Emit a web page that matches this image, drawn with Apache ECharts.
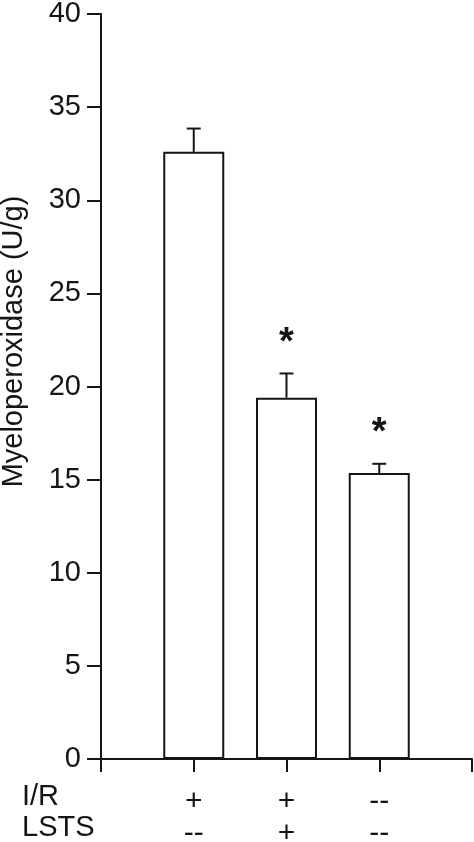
<!DOCTYPE html>
<html><head><meta charset="utf-8">
<script src="https://cdn.jsdelivr.net/npm/echarts@6/dist/echarts.min.js"></script>
<style>html,body{margin:0;padding:0;background:#fff}#c{width:474px;height:842px}</style>
</head><body><div id="c"></div>
<script>
// Data
const irRow = ['+', '+', '--'];
const lstsRow = ['--', '+', '--'];
const rowHeaders = ['I/R', 'LSTS'];
const means = [32.6, 19.4, 15.35];
const errors = [1.25, 1.3, 0.5];
const marks = ['', '*', '*'];
const yMin = 0, yMax = 40, yInterval = 5;
const yName = 'Myeloperoxidase (U/g)';

const FONT = "'Liberation Sans', Arial, sans-serif";
const INK = '#151515';

const categories = [''].concat(irRow.map((v, i) => v + '\n' + lstsRow[i]), ['']);
const barData = means.map((m, i) => [i + 1, m]);
const errData = means.map((m, i) => [i + 1, m, errors[i]]);

const chart = echarts.init(document.getElementById('c'));
chart.setOption({
  backgroundColor: '#fff',
  animation: false,
  grid: { left: 101, right: 2, top: 14, bottom: 83, containLabel: false, outerBoundsMode: 'none' },
  xAxis: {
    type: 'category',
    data: categories,
    boundaryGap: false,
    axisLine: { lineStyle: { color: INK, width: 2 } },
    axisTick: { show: true, interval: 0, length: 13, lineStyle: { color: INK, width: 2 } },
    axisLabel: { interval: 0, fontSize: 30, fontFamily: FONT, color: INK, lineHeight: 32, margin: 27 },
    splitLine: { show: false }
  },
  yAxis: {
    type: 'value',
    min: yMin, max: yMax, interval: yInterval,
    name: yName,
    nameLocation: 'middle',
    nameRotate: 90,
    nameGap: 73,
    nameTextStyle: { fontSize: 29, fontFamily: FONT, color: INK, padding: [0, 0, 0, 90] },
    axisLine: { show: true, lineStyle: { color: INK, width: 2 } },
    axisTick: { show: true, length: 14, lineStyle: { color: INK, width: 2 } },
    axisLabel: { fontSize: 29, fontFamily: FONT, color: INK, margin: 20 },
    splitLine: { show: false }
  },
  graphic: rowHeaders.map((t, i) => ({
    type: 'text', left: 22, top: i === 0 ? 782 : 813,
    style: { text: t, font: '29px ' + FONT, fill: INK }
  })),
  series: [
    {
      type: 'bar',
      data: barData,
      barWidth: 61,
      itemStyle: { color: '#fff', borderColor: INK, borderWidth: 2 },
      z: 2
    },
    {
      type: 'custom',
      data: errData,
      z: 3,
      renderItem: function (params, api) {
        const x = api.value(0), m = api.value(1), e = api.value(2);
        const base = api.coord([x, m]);
        const top = api.coord([x, m + e]);
        const half = 7;
        const children = [
          { type: 'line', shape: { x1: base[0], y1: base[1], x2: top[0], y2: top[1] }, style: { stroke: INK, lineWidth: 2 } },
          { type: 'line', shape: { x1: top[0] - half, y1: top[1], x2: top[0] + half, y2: top[1] }, style: { stroke: INK, lineWidth: 2 } }
        ];
        const s = marks[params.dataIndex];
        if (s) {
          children.push({ type: 'text', x: top[0], y: top[1] - 30,
            style: { text: s, font: 'bold 38px ' + FONT, fill: INK, align: 'center', verticalAlign: 'middle' } });
        }
        return { type: 'group', children: children };
      }
    }
  ]
});
</script></body></html>
